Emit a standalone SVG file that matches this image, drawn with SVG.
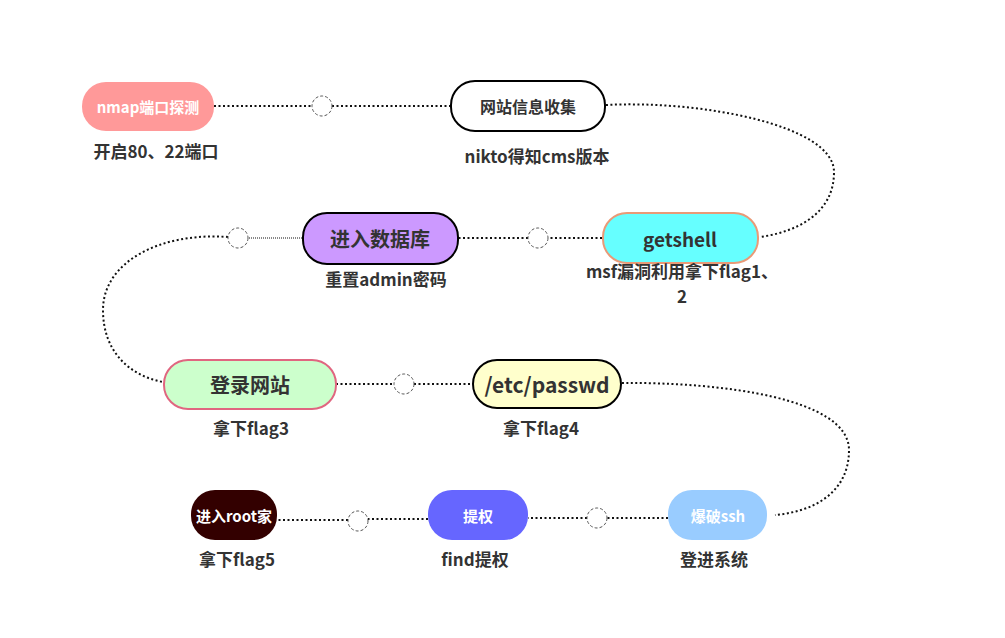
<svg xmlns="http://www.w3.org/2000/svg" width="1005" height="638" viewBox="0 0 1005 638">
<style>
text{font-family:"Noto Sans CJK SC","Noto Sans",sans-serif;font-weight:bold;text-anchor:middle;dominant-baseline:central}
.dark{fill:#333}
.white{fill:#fff}
.lbl{fill:#333;font-size:17px}
.dot{fill:none;stroke:#111;stroke-width:2;stroke-dasharray:2 2.5}
.fine{fill:none;stroke:#111;stroke-width:1;stroke-dasharray:1 1}
.hub{fill:#fff;stroke:#555;stroke-width:1;stroke-dasharray:3 2}
</style>
<rect width="1005" height="638" fill="#fff"/>
<g id="connectors">
<path class="dot" d="M214,106 H312 M332,106 H450"/>
<path class="dot" d="M606,105 C700,100 834,125 834,172 C834,215 795,232 760,237"/>
<path class="dot" d="M602,238 H548 M528,238 H458"/>
<path class="fine" d="M302,238 H248"/>
<path class="dot" d="M228,237 C160,232 103,262 103,310 C103,352 130,376 163,382"/>
<path class="dot" d="M336,384 H394 M414,384 H472"/>
<path class="dot" d="M622,383 C720,382 849,398 849,450 C849,495 810,512 775,515"/>
<path class="dot" d="M668,518 H607 M587,518 H528"/>
<path class="dot" d="M428,519 H368 M348,520 H277"/>
<circle class="hub" cx="322" cy="106" r="10"/>
<circle class="hub" cx="538" cy="238" r="10"/>
<circle class="hub" cx="238" cy="238" r="10"/>
<circle class="hub" cx="404" cy="384" r="10"/>
<circle class="hub" cx="597" cy="518" r="10"/>
<circle class="hub" cx="358" cy="521" r="10"/>
</g>
<g id="n1">
<rect x="82" y="82" width="132" height="49" rx="24" fill="#ff9999"/>
<text class="white" x="148" y="106" font-size="15">nmap端口探测</text>
<text class="lbl" x="156" y="150">开启80、22端口</text>
</g>
<g id="n2">
<rect x="451" y="81" width="154" height="50" rx="24" fill="#fff" stroke="#000" stroke-width="2"/>
<text class="dark" x="528" y="106" font-size="16">网站信息收集</text>
<text class="lbl" x="537" y="155">nikto得知cms版本</text>
</g>
<g id="n3">
<rect x="603" y="213" width="155" height="50" rx="24" fill="#66ffff" stroke="#e99a77" stroke-width="2"/>
<text class="dark" x="680" y="238" font-size="19">getshell</text>
<text class="lbl" x="682" y="270">msf漏洞利用拿下flag1、</text>
<text class="lbl" x="682" y="295">2</text>
</g>
<g id="n4">
<rect x="303" y="213" width="155" height="51" rx="24" fill="#cc99ff" stroke="#000" stroke-width="2"/>
<text class="dark" x="380" y="238" font-size="20">进入数据库</text>
<text class="lbl" x="386" y="278">重置admin密码</text>
</g>
<g id="n5">
<rect x="164" y="360" width="172" height="49" rx="24" fill="#ccffcc" stroke="#e06680" stroke-width="2"/>
<text class="dark" x="250" y="384" font-size="20">登录网站</text>
<text class="lbl" x="251" y="427">拿下flag3</text>
</g>
<g id="n6">
<rect x="473" y="360" width="148" height="48" rx="24" fill="#ffffcc" stroke="#000" stroke-width="2"/>
<text class="dark" x="547" y="384" font-size="21">/etc/passwd</text>
<text class="lbl" x="541" y="427">拿下flag4</text>
</g>
<g id="n7">
<rect x="191" y="490" width="86" height="50" rx="24" fill="#330000"/>
<text class="white" x="234" y="515" font-size="15">进入root家</text>
<text class="lbl" x="237" y="558">拿下flag5</text>
</g>
<g id="n8">
<rect x="428" y="490" width="100" height="50" rx="24" fill="#6666ff"/>
<text class="white" x="478" y="515" font-size="15">提权</text>
<text class="lbl" x="475" y="558">find提权</text>
</g>
<g id="n9">
<rect x="668" y="490" width="99" height="50" rx="24" fill="#99ccff"/>
<text class="white" x="718" y="515" font-size="15">爆破ssh</text>
<text class="lbl" x="714" y="558">登进系统</text>
</g>
</svg>
